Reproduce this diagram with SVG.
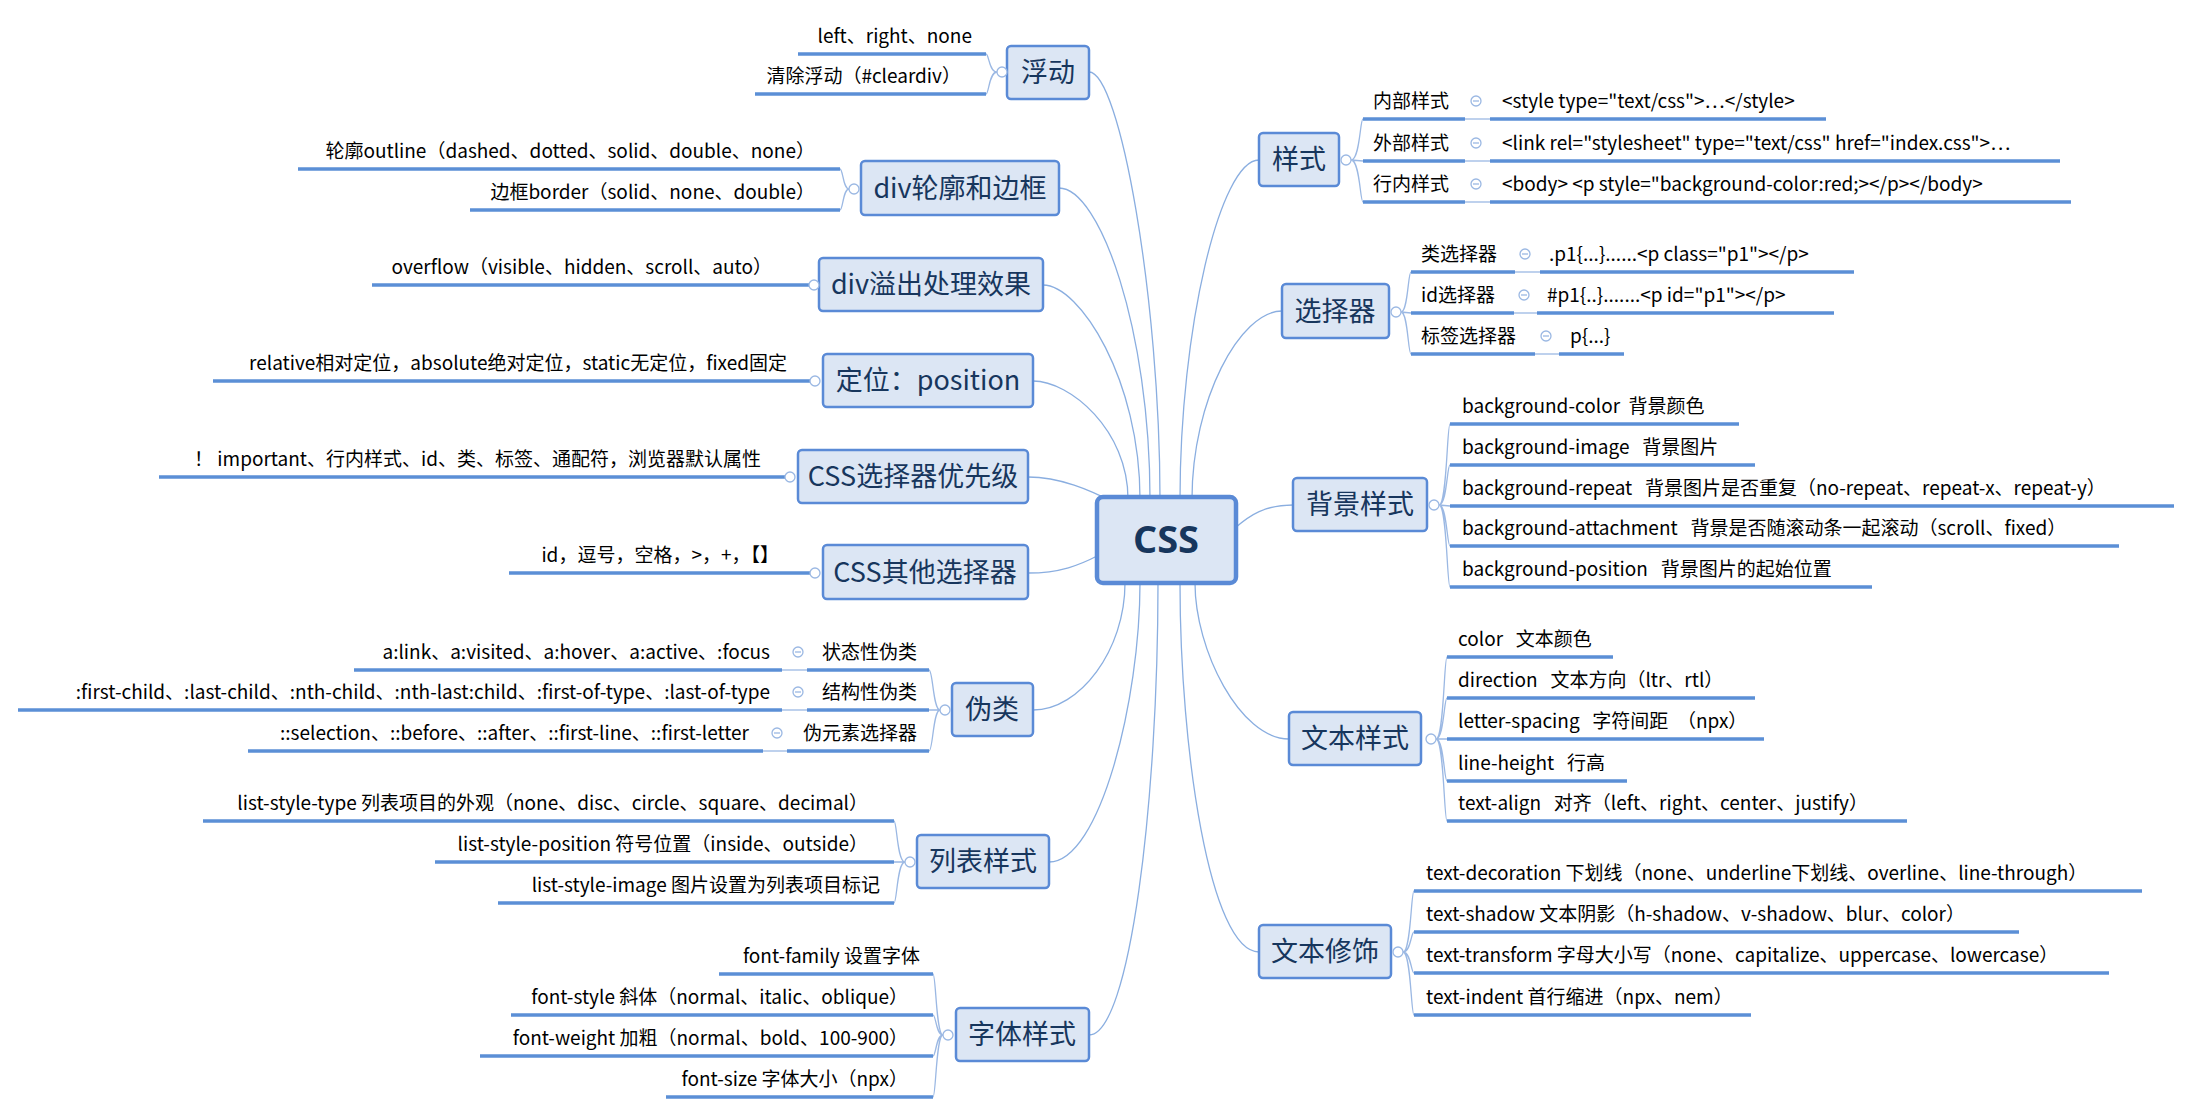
<svg xmlns="http://www.w3.org/2000/svg" width="2191" height="1114" viewBox="0 0 2191 1114">
<style>
.bg{fill:#fff}
.nd rect{fill:#dce6f4;stroke:#5a8ad6;stroke-width:2.5}
.nt{font-family:"Noto Sans CJK SC","Noto Sans",sans-serif;font-size:27px;fill:#17365d;text-anchor:middle}
.t{font-family:"Noto Sans CJK SC","Noto Sans",sans-serif;font-size:19px;fill:#000;white-space:pre}
.e{text-anchor:end}
.ul{stroke:#5b8fd6;stroke-width:3.5;fill:none}
.th{stroke:#9bb8e3;stroke-width:1.3;fill:none}
.ci{fill:#fff;stroke:#9bb8e3;stroke-width:1.3}
.mi{stroke:#9bb8e3;stroke-width:1.3}
.cn{stroke:#8aaee0;stroke-width:1.3;fill:none}
</style>
<rect class="bg" width="2191" height="1114"/>
<defs>
<g id="col"><circle class="ci" r="5"/><line class="mi" x1="-3" y1="0" x2="3" y2="0"/></g>
</defs>
<g id="connectors">
<path class="cn" d="M1089,72 C1120,72 1160,300 1160,499"/>
<path class="cn" d="M1059,188 C1100,188 1150,330 1150,499"/>
<path class="cn" d="M1043,285 C1080,285 1140,380 1140,499"/>
<path class="cn" d="M1033,381 C1070,381 1128,430 1128,499"/>
<path class="cn" d="M1028,477 C1060,477 1090,490 1115,503"/>
<path class="cn" d="M1028,573 C1060,573 1080,565 1099,555"/>
<path class="cn" d="M1033,710 C1080,710 1125,650 1125,583"/>
<path class="cn" d="M1049,862 C1100,862 1140,700 1140,583"/>
<path class="cn" d="M1089,1035 C1130,1035 1158,800 1158,583"/>
<path class="cn" d="M1259,160 C1220,160 1180,330 1180,499"/>
<path class="cn" d="M1282,311 C1240,311 1192,400 1192,499"/>
<path class="cn" d="M1293,505 C1265,505 1250,515 1235,528"/>
<path class="cn" d="M1289,739 C1240,739 1195,650 1195,583"/>
<path class="cn" d="M1259,952 C1210,952 1180,750 1180,583"/>
</g>
<g id="n-css" class="nd"><rect x="1097" y="497" width="139" height="86" rx="6" style="stroke-width:4.5"/><text class="nt" x="1166" y="553" style="font-size:38px;font-weight:bold;font-family:'Open Sans','Noto Sans',sans-serif">CSS</text></g>

<g id="n-float"><g class="nd"><rect x="1007" y="46" width="82" height="53" rx="4"/></g><text class="nt" x="1048" y="82">浮动</text>
<line class="ul" x1="798" y1="54" x2="986" y2="54"/><line class="ul" x1="755" y1="94" x2="986" y2="94"/>
<path class="th" d="M997,72 C989,72 989,54 986,54 M997,72 C989,72 989,94 986,94"/><line class="th" x1="1007" y1="72" x2="1002" y2="72"/><circle class="ci" cx="1002" cy="72" r="5"/>
<text class="t e" x="972" y="43">left、right、none</text><text class="t e" x="961" y="83">清除浮动（#cleardiv）</text></g>

<g id="n-border"><g class="nd"><rect x="861" y="161" width="198" height="54" rx="4"/></g><text class="nt" x="960" y="198">div轮廓和边框</text>
<line class="ul" x1="298" y1="169" x2="840" y2="169"/><line class="ul" x1="470" y1="210" x2="840" y2="210"/>
<path class="th" d="M849,189 C843,189 843,169 840,169 M849,189 C843,189 843,210 840,210"/><circle class="ci" cx="854" cy="189" r="5"/>
<text class="t e" x="815" y="158">轮廓outline（dashed、dotted、solid、double、none）</text><text class="t e" x="815" y="199">边框border（solid、none、double）</text></g>

<g id="n-overflow"><g class="nd"><rect x="819" y="258" width="224" height="53" rx="4"/></g><text class="nt" x="931" y="294">div溢出处理效果</text>
<line class="ul" x1="372" y1="285" x2="809" y2="285"/><circle class="ci" cx="814" cy="285" r="5"/>
<text class="t e" x="772" y="274">overflow（visible、hidden、scroll、auto）</text></g>

<g id="n-position"><g class="nd"><rect x="823" y="354" width="210" height="53" rx="4"/></g><text class="nt" x="928" y="390">定位：position</text>
<line class="ul" x1="213" y1="381" x2="810" y2="381"/><circle class="ci" cx="815" cy="381" r="5"/>
<text class="t e" x="787" y="370">relative相对定位，absolute绝对定位，static无定位，fixed固定</text></g>

<g id="n-priority"><g class="nd"><rect x="798" y="450" width="230" height="53" rx="4"/></g><text class="nt" x="913" y="486">CSS选择器优先级</text>
<line class="ul" x1="159" y1="477" x2="785" y2="477"/><circle class="ci" cx="790" cy="477" r="5"/>
<text class="t e" x="761" y="466">！ important、行内样式、id、类、标签、通配符，浏览器默认属性</text></g>

<g id="n-other"><g class="nd"><rect x="823" y="545" width="205" height="54" rx="4"/></g><text class="nt" x="925" y="582">CSS其他选择器</text>
<line class="ul" x1="509" y1="573" x2="810" y2="573"/><circle class="ci" cx="815" cy="573" r="5"/>
<text class="t e" x="779" y="562">id，逗号，空格，&gt;，+，【】</text></g>

<g id="n-pseudo"><g class="nd"><rect x="952" y="683" width="81" height="53" rx="4"/></g><text class="nt" x="992" y="719">伪类</text>
<circle class="ci" cx="945" cy="710" r="5"/>
<path class="th" d="M940,710 C933,710 933,670 929,670 M940,710 L929,710 M940,710 C933,710 933,751 929,751"/>
<line class="ul" x1="807" y1="670" x2="929" y2="670"/><line class="ul" x1="807" y1="710" x2="929" y2="710"/><line class="ul" x1="787" y1="751" x2="929" y2="751"/>
<line class="th" x1="782" y1="670" x2="807" y2="670"/><line class="th" x1="782" y1="710" x2="807" y2="710"/><line class="th" x1="763" y1="751" x2="787" y2="751"/>
<line class="ul" x1="354" y1="670" x2="782" y2="670"/><line class="ul" x1="18" y1="710" x2="782" y2="710"/><line class="ul" x1="248" y1="751" x2="763" y2="751"/>
<text class="t e" x="917" y="659">状态性伪类</text><text class="t e" x="917" y="699">结构性伪类</text><text class="t e" x="917" y="740">伪元素选择器</text>
<use href="#col" x="798" y="652"/><use href="#col" x="798" y="692"/><use href="#col" x="777" y="733"/>
<text class="t e" x="770" y="659">a:link、a:visited、a:hover、a:active、:focus</text>
<text class="t e" x="770" y="699">:first-child、:last-child、:nth-child、:nth-last:child、:first-of-type、:last-of-type</text>
<text class="t e" x="749" y="740">::selection、::before、::after、::first-line、::first-letter</text></g>

<g id="n-list"><g class="nd"><rect x="917" y="835" width="132" height="53" rx="4"/></g><text class="nt" x="983" y="871">列表样式</text>
<circle class="ci" cx="910" cy="862" r="5"/>
<path class="th" d="M905,862 C897,862 897,821 894,821 M905,862 L894,862 M905,862 C897,862 897,903 894,903"/>
<line class="ul" x1="203" y1="821" x2="894" y2="821"/><line class="ul" x1="435" y1="862" x2="894" y2="862"/><line class="ul" x1="498" y1="903" x2="894" y2="903"/>
<text class="t e" x="868" y="810">list-style-type 列表项目的外观（none、disc、circle、square、decimal）</text>
<text class="t e" x="868" y="851">list-style-position 符号位置（inside、outside）</text>
<text class="t e" x="880" y="892">list-style-image 图片设置为列表项目标记</text></g>

<g id="n-font"><g class="nd"><rect x="956" y="1008" width="133" height="53" rx="4"/></g><text class="nt" x="1022" y="1044">字体样式</text>
<circle class="ci" cx="948" cy="1035" r="5"/>
<path class="th" d="M943,1035 C936,1035 936,974 933,974 M943,1035 C936,1035 936,1015 933,1015 M943,1035 C936,1035 936,1056 933,1056 M943,1035 C936,1035 936,1097 933,1097"/>
<line class="ul" x1="719" y1="974" x2="933" y2="974"/><line class="ul" x1="511" y1="1015" x2="933" y2="1015"/><line class="ul" x1="480" y1="1056" x2="933" y2="1056"/><line class="ul" x1="666" y1="1097" x2="933" y2="1097"/>
<text class="t e" x="920" y="963">font-family 设置字体</text>
<text class="t e" x="908" y="1004">font-style 斜体（normal、italic、oblique）</text>
<text class="t e" x="908" y="1045">font-weight 加粗（normal、bold、100-900）</text>
<text class="t e" x="908" y="1086">font-size 字体大小（npx）</text></g>

<g id="n-style"><g class="nd"><rect x="1259" y="133" width="80" height="53" rx="4"/></g><text class="nt" x="1299" y="169">样式</text>
<circle class="ci" cx="1346" cy="160" r="5"/>
<path class="th" d="M1351,160 C1360,160 1360,119 1363,119 M1351,160 L1363,161 M1351,160 C1360,160 1360,202 1363,202"/>
<line class="ul" x1="1363" y1="119" x2="1465" y2="119"/><line class="ul" x1="1363" y1="161" x2="1465" y2="161"/><line class="ul" x1="1363" y1="202" x2="1465" y2="202"/>
<line class="th" x1="1465" y1="119" x2="1490" y2="119"/><line class="th" x1="1465" y1="161" x2="1490" y2="161"/><line class="th" x1="1465" y1="202" x2="1490" y2="202"/>
<line class="ul" x1="1490" y1="119" x2="1826" y2="119"/><line class="ul" x1="1490" y1="161" x2="2060" y2="161"/><line class="ul" x1="1490" y1="202" x2="2071" y2="202"/>
<text class="t" x="1373" y="108">内部样式</text><text class="t" x="1373" y="150">外部样式</text><text class="t" x="1373" y="191">行内样式</text>
<use href="#col" x="1476" y="101"/><use href="#col" x="1476" y="143"/><use href="#col" x="1476" y="184"/>
<text class="t" x="1502" y="108">&lt;style type="text/css"&gt;…&lt;/style&gt;</text>
<text class="t" x="1502" y="150">&lt;link rel="stylesheet" type="text/css" href="index.css"&gt;…</text>
<text class="t" x="1502" y="191">&lt;body&gt; &lt;p style="background-color:red;&gt;&lt;/p&gt;&lt;/body&gt;</text></g>

<g id="n-selector"><g class="nd"><rect x="1282" y="284" width="107" height="54" rx="4"/></g><text class="nt" x="1335" y="321">选择器</text>
<circle class="ci" cx="1396" cy="312" r="5"/>
<path class="th" d="M1401,312 C1408,312 1408,272 1411,272 M1401,312 L1411,313 M1401,312 C1408,312 1408,354 1411,354"/>
<line class="ul" x1="1411" y1="272" x2="1515" y2="272"/><line class="ul" x1="1411" y1="313" x2="1514" y2="313"/><line class="ul" x1="1411" y1="354" x2="1535" y2="354"/>
<line class="th" x1="1515" y1="272" x2="1540" y2="272"/><line class="th" x1="1514" y1="313" x2="1537" y2="313"/><line class="th" x1="1535" y1="354" x2="1559" y2="354"/>
<line class="ul" x1="1540" y1="272" x2="1854" y2="272"/><line class="ul" x1="1537" y1="313" x2="1834" y2="313"/><line class="ul" x1="1559" y1="354" x2="1624" y2="354"/>
<text class="t" x="1421" y="261">类选择器</text><text class="t" x="1421" y="302">id选择器</text><text class="t" x="1421" y="343">标签选择器</text>
<use href="#col" x="1525" y="254"/><use href="#col" x="1524" y="295"/><use href="#col" x="1546" y="336"/>
<text class="t" x="1549" y="261">.p1{...}......&lt;p class="p1"&gt;&lt;/p&gt;</text>
<text class="t" x="1547" y="302">#p1{..}.......&lt;p id="p1"&gt;&lt;/p&gt;</text>
<text class="t" x="1570" y="343">p{...}</text></g>

<g id="n-bg"><g class="nd"><rect x="1293" y="478" width="134" height="53" rx="4"/></g><text class="nt" x="1360" y="514">背景样式</text>
<circle class="ci" cx="1434" cy="505" r="5"/>
<path class="th" d="M1439,505 C1447,505 1447,424 1450,424 M1439,505 C1447,505 1447,465 1450,465 M1439,505 L1450,506 M1439,505 C1447,505 1447,546 1450,546 M1439,505 C1447,505 1447,587 1450,587"/>
<line class="ul" x1="1450" y1="424" x2="1739" y2="424"/><line class="ul" x1="1450" y1="465" x2="1755" y2="465"/><line class="ul" x1="1450" y1="506" x2="2174" y2="506"/><line class="ul" x1="1450" y1="546" x2="2119" y2="546"/><line class="ul" x1="1450" y1="587" x2="1872" y2="587"/>
<text class="t" x="1462" y="413">background-color  背景颜色</text>
<text class="t" x="1462" y="454">background-image   背景图片</text>
<text class="t" x="1462" y="495">background-repeat   背景图片是否重复（no-repeat、repeat-x、repeat-y）</text>
<text class="t" x="1462" y="535">background-attachment   背景是否随滚动条一起滚动（scroll、fixed）</text>
<text class="t" x="1462" y="576">background-position   背景图片的起始位置</text></g>

<g id="n-text"><g class="nd"><rect x="1289" y="712" width="132" height="53" rx="4"/></g><text class="nt" x="1355" y="748">文本样式</text>
<circle class="ci" cx="1431" cy="739" r="5"/>
<path class="th" d="M1436,739 C1444,739 1444,657 1447,657 M1436,739 C1444,739 1444,698 1447,698 M1436,739 L1447,739 M1436,739 C1444,739 1444,781 1447,781 M1436,739 C1444,739 1444,821 1447,821"/>
<line class="ul" x1="1447" y1="657" x2="1613" y2="657"/><line class="ul" x1="1447" y1="698" x2="1755" y2="698"/><line class="ul" x1="1447" y1="739" x2="1764" y2="739"/><line class="ul" x1="1447" y1="781" x2="1627" y2="781"/><line class="ul" x1="1447" y1="821" x2="1907" y2="821"/>
<text class="t" x="1458" y="646">color   文本颜色</text>
<text class="t" x="1458" y="687">direction   文本方向（ltr、rtl）</text>
<text class="t" x="1458" y="728">letter-spacing   字符间距  （npx）</text>
<text class="t" x="1458" y="770">line-height   行高</text>
<text class="t" x="1458" y="810">text-align   对齐（left、right、center、justify）</text></g>

<g id="n-deco"><g class="nd"><rect x="1259" y="925" width="132" height="53" rx="4"/></g><text class="nt" x="1325" y="961">文本修饰</text>
<circle class="ci" cx="1398" cy="952" r="5"/>
<path class="th" d="M1403,952 C1411,952 1411,891 1414,891 M1403,952 C1411,952 1411,932 1414,932 M1403,952 C1411,952 1411,973 1414,973 M1403,952 C1411,952 1411,1015 1414,1015"/>
<line class="ul" x1="1414" y1="891" x2="2142" y2="891"/><line class="ul" x1="1414" y1="932" x2="2019" y2="932"/><line class="ul" x1="1414" y1="973" x2="2109" y2="973"/><line class="ul" x1="1414" y1="1015" x2="1751" y2="1015"/>
<text class="t" x="1426" y="880">text-decoration 下划线（none、underline下划线、overline、line-through）</text>
<text class="t" x="1426" y="921">text-shadow 文本阴影（h-shadow、v-shadow、blur、color）</text>
<text class="t" x="1426" y="962">text-transform 字母大小写（none、capitalize、uppercase、lowercase）</text>
<text class="t" x="1426" y="1004">text-indent 首行缩进（npx、nem）</text></g>
</svg>
